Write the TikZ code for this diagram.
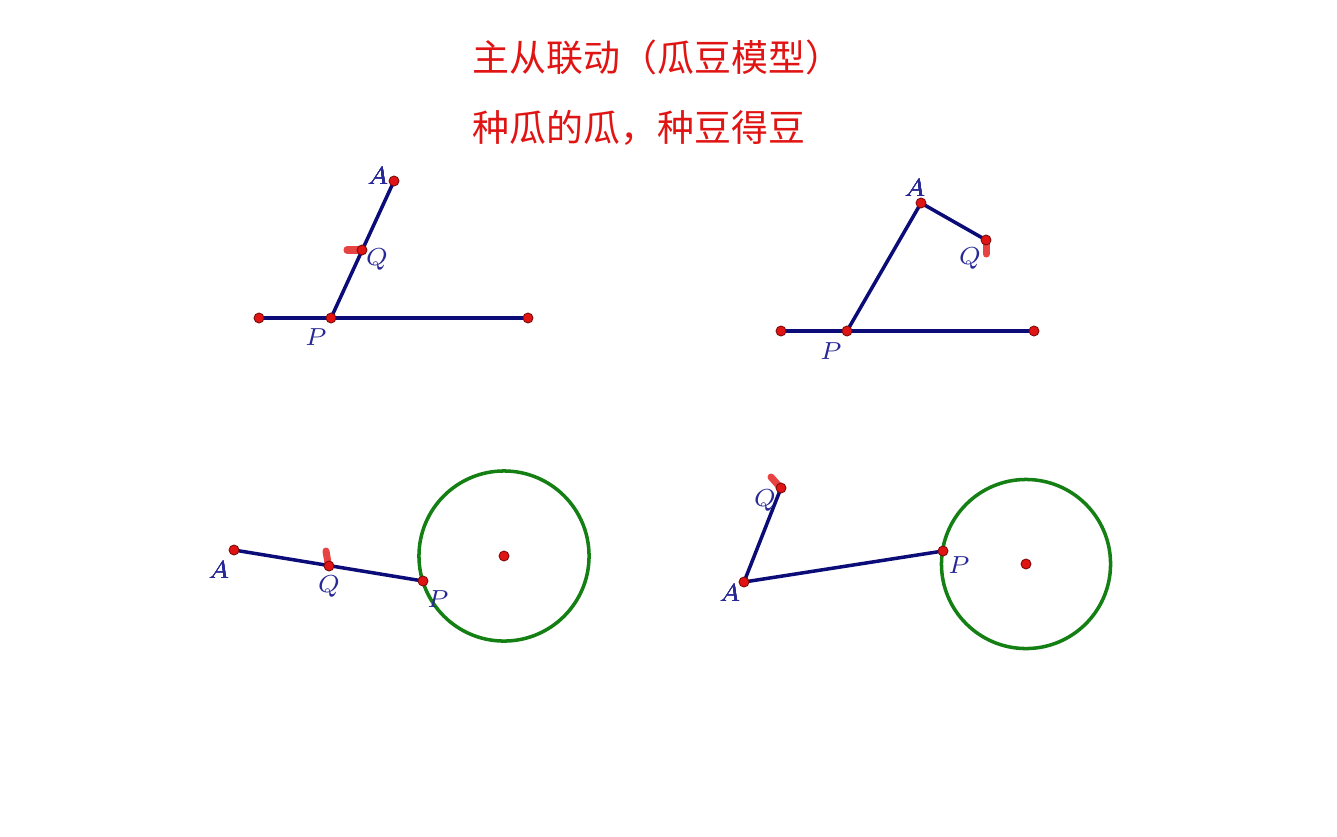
\documentclass[tikz,border=0pt]{standalone}
\usepackage{fontspec}
\newfontfamily\cjk{Noto Sans CJK SC}
\definecolor{segblue}{RGB}{12,12,120}
\definecolor{ptred}{RGB}{225,20,20}
\definecolor{circgreen}{RGB}{20,128,20}
\definecolor{lblblue}{RGB}{40,40,150}
\definecolor{titlered}{RGB}{225,20,20}
\tikzset{
  seg/.style={draw=segblue, line width=1pt},
  ring/.style={draw=circgreen, line width=1pt},
  trace/.style={draw=ptred, opacity=0.8, line width=2pt, line cap=round},
  lbl/.style={text=lblblue, inner sep=0pt, font=\fontsize{7.5}{8}\selectfont},
  title/.style={text=titlered, inner sep=0pt, anchor=west, font=\cjk\fontsize{10.5}{12}\selectfont}
}
\newcommand{\ptdot}[1]{\fill[ptred, draw=ptred!55!black, line width=0.25pt] (#1) circle (0.5mm);}
\begin{document}
\begin{tikzpicture}[x=0.01cm, y=-0.01cm]
			\useasboundingbox (0,0) rectangle (1337,836);
			\node[title] (t1) at (472,57){主从联动（瓜豆模型）};
			\node[title] (t2) at (472,128){种瓜的瓜，种豆得豆};
			%%%%%%%%%%%%%%%%%%%%%%%%%%%%%%%%
			\coordinate (L1) at (259,318);
			\coordinate (P1) at (331,318);
			\coordinate (R1) at (528,318);
			\coordinate (A1) at (394,181);
			\coordinate (Q1) at (362,250);
			\draw[seg] (L1)--(R1);
			\draw[seg] (P1)--(A1);
			\draw[trace] (347,250)--(359,250);
			\foreach \p in {L1,P1,R1,A1,Q1} \ptdot{\p}
			\node[lbl] (a1) at (378,176){$A$};
			\node[lbl] (q1) at (377,259){$Q$};
			\node[lbl] (p1) at (316,337){$P$};
			%%%%%%%%%%%%%%%%%%%%%%%%%%%%%%%%
			\coordinate (L2) at (781,331);
			\coordinate (P2) at (847,331);
			\coordinate (R2) at (1034,331);
			\coordinate (A2) at (921,203);
			\coordinate (Q2) at (986,240);
			\draw[seg] (L2)--(R2);
			\draw[seg] (P2)--(A2)--(Q2);
			\draw[trace] (986,242)--(986,254);
			\foreach \p in {L2,P2,R2,A2,Q2} \ptdot{\p}
			\node[lbl] (a2) at (915,188){$A$};
			\node[lbl] (q2) at (970,258){$Q$};
			\node[lbl] (p2) at (831,351){$P$};
			%%%%%%%%%%%%%%%%%%%%%%%%%%%%%%%%
			\coordinate (O3) at (504,556);
			\coordinate (A3) at (234,550);
			\coordinate (Q3) at (329,566);
			\coordinate (P3) at (423,581);
			\draw[ring] (O3) circle (0.85cm);
			\draw[seg] (A3)--(P3);
			\draw[trace] (326,551)--(328,563);
			\foreach \p in {O3,A3,Q3,P3} \ptdot{\p}
			\node[lbl] (a3) at (219,570){$A$};
			\node[lbl] (q3) at (329,586){$Q$};
			\node[lbl] (p3) at (438,599){$P$};
			%%%%%%%%%%%%%%%%%%%%%%%%%%%%%%%%
			\coordinate (O4) at (1026,564);
			\coordinate (A4) at (744,582);
			\coordinate (Q4) at (781,488);
			\coordinate (P4) at (943,551);
			\draw[ring] (O4) circle (0.845cm);
			\draw[seg] (Q4)--(A4)--(P4);
			\draw[trace] (771,477)--(779,486);
			\foreach \p in {O4,A4,Q4,P4} \ptdot{\p}
			\node[lbl] (a4) at (730,593){$A$};
			\node[lbl] (q4) at (765,500){$Q$};
			\node[lbl] (p4) at (959,565){$P$};
\end{tikzpicture}
\end{document}
